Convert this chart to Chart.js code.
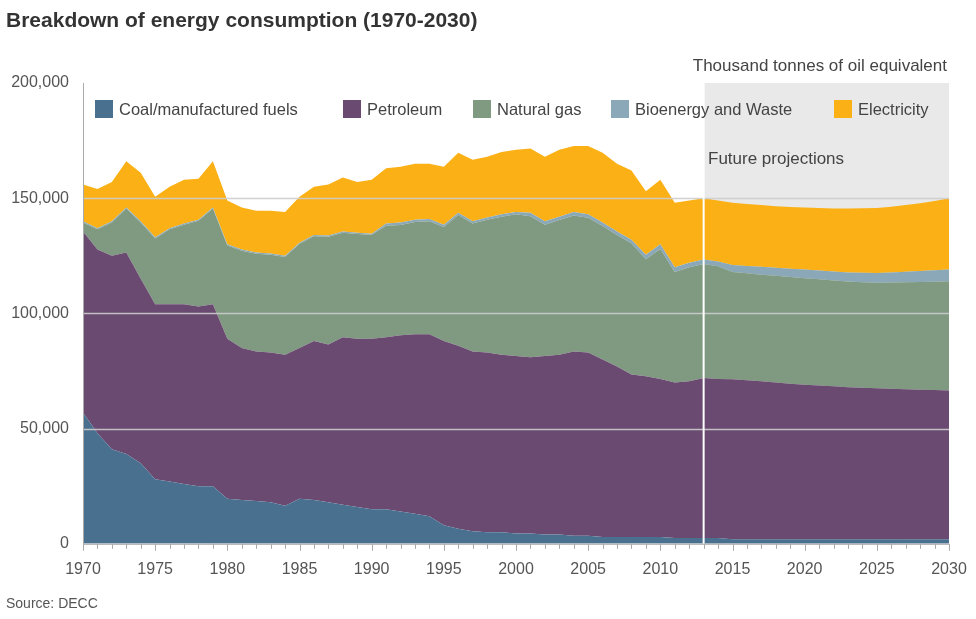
<!DOCTYPE html>
<html>
<head>
<meta charset="utf-8">
<script src="https://cdn.jsdelivr.net/npm/chart.js@4"></script>
<style>
  body { margin: 0; background: #fff; }
  #wrap { width: 976px; height: 619px; position: relative; }
</style>
</head>
<body>
<div id="wrap"><canvas id="chart" width="976" height="619"></canvas></div>
<script>
const years = [];
for (let y = 1970; y <= 2030; y++) years.push(y);

// thousand tonnes of oil equivalent
const coal = [57,48,41,39,35,28,27,26,25,25, 19.5,19,18.6,18,16.5,19.5,19,18,17,16,
  15,15,14,13,12,8,6.5,5.5,5,5, 4.5,4.5,4,4,3.5,3.5,3,3,3,3, 3,2.5,2.5,2.5,2.5,
  2,2,2,2,2,2,2,2,2,2,2,2,2,2,2,2];
const petroleum = [78.5,79.7,84,87.4,80,76,77,78,78,79, 69.5,66,64.9,65,65.5,65.5,69,68.5,72.6,73,
  74,74.6,76.5,78,79,80,79.5,78,78,77, 77,76.5,77.5,78,80,79.5,77,74,70.5,69.7,
  68.5,67.5,68,69.5,69, 69.4,69,68.5,68,67.5,67,66.7,66.4,66,65.7,65.5,65.3,65.1,64.9,64.7,64.5];
const naturalGas = [4,8.8,14.5,19.1,24.5,28.5,32.5,34.5,37.2,41.5, 40.5,42.2,42.4,42.5,42.5,45.2,45.5,46.8,45.4,45.5,
  45.1,48.4,47.9,48.7,49,49.5,56.7,55.5,57.6,60, 61.5,61.2,57,58.5,59,58.5,57.9,57,57,50.8,
  56.5,48,49.5,49.4,49, 46.6,46.4,46.3,46.3,46.3,46.3,46.1,45.9,45.8,45.8,45.8,46.1,46.4,46.7,47,47.5];
const bioenergy = [0.5,0.5,0.5,0.5,0.5,0.5,0.5,0.5,0.5,0.5, 0.5,0.5,0.5,0.5,0.5,0.5,0.5,0.5,0.5,0.5,
  0.5,1,1,1,1,1,1,1,1,1, 1,1.5,1.5,1.5,1.5,1.5,1.5,1.5,1.5,2,
  2,2,2,2,2, 3,3.2,3.4,3.5,3.6,3.7,3.8,3.9,4,4.1,4.2,4.4,4.6,4.8,5,5];
const electricity = [16,17,17,20,21,17.6,18,19,17.7,20, 19,18.3,18.2,18.6,19,19.9,21,22.2,23.5,22,
  23.4,24,24.2,24.3,24,25.1,26,26.7,26.4,27, 27,27.9,28,29,28.7,29.7,30.3,29.5,30,27.5,
  28,28,27,26.6,26.5, 27,26.9,26.8,26.7,26.8,27,27.2,27.3,27.7,28,28.3,28.5,28.9,29.4,30.1,31];

const seriesNames = ["Coal/manufactured fuels", "Petroleum", "Natural gas", "Bioenergy and Waste", "Electricity"];
const seriesColors = ["#4a7090", "#6b4a72", "#7f9a80", "#8aa8b8", "#fbb116"];
const seriesData = [coal, petroleum, naturalGas, bioenergy, electricity];
const projectionStart = 2013;
const xTicks = [1970,1975,1980,1985,1990,1995,2000,2005,2010,2015,2020,2025,2030];

const FONT = "'Liberation Sans', Arial, sans-serif";

const decor = {
  id: "decor",
  beforeDatasetsDraw(chart) {
    const { ctx, chartArea: a, scales: { x } } = chart;
    ctx.save();
    ctx.fillStyle = "#e9e9e9";
    const px = x.getPixelForValue(projectionStart);
    ctx.fillRect(px, a.top, a.right - px, a.bottom - a.top);
    ctx.restore();
  },
  afterDatasetsDraw(chart) {
    const { ctx, chartArea: a, scales: { x, y } } = chart;
    ctx.save();
    ctx.strokeStyle = "rgba(205,205,205,0.9)";
    ctx.lineWidth = 1.5;
    [50000, 100000, 150000].forEach(v => {
      const py = Math.round(y.getPixelForValue(v)) + 0.5;
      ctx.beginPath(); ctx.moveTo(a.left, py); ctx.lineTo(a.right, py); ctx.stroke();
    });
    const px = x.getPixelForValue(projectionStart);
    ctx.strokeStyle = "#fff"; ctx.lineWidth = 2;
    ctx.beginPath(); ctx.moveTo(px, a.top); ctx.lineTo(px, a.bottom); ctx.stroke();
    ctx.strokeStyle = "#aaa"; ctx.lineWidth = 1;
    ctx.beginPath(); ctx.moveTo(a.left + 0.5, a.top); ctx.lineTo(a.left + 0.5, a.bottom); ctx.stroke();
    ctx.beginPath(); ctx.moveTo(a.left, a.bottom + 0.5); ctx.lineTo(a.right, a.bottom + 0.5); ctx.stroke();
    years.forEach(yr => {
      const tx = Math.round(x.getPixelForValue(yr)) + 0.5;
      ctx.beginPath(); ctx.moveTo(tx, a.bottom); ctx.lineTo(tx, a.bottom + (yr % 5 === 0 ? 7 : 5)); ctx.stroke();
    });
    ctx.fillStyle = "#333";
    ctx.font = "bold 21px " + FONT;
    ctx.textBaseline = "middle";
    ctx.textAlign = "left";
    ctx.fillText("Breakdown of energy consumption (1970-2030)", 6, 21);
    ctx.font = "17px " + FONT;
    ctx.fillStyle = "#444";
    ctx.textAlign = "right";
    ctx.fillText("Thousand tonnes of oil equivalent", 947, 66);
    ctx.textAlign = "left";
    ctx.fillText("Future projections", 708, 159);
    ctx.font = "14px " + FONT;
    ctx.fillStyle = "#555";
    ctx.fillText("Source: DECC", 6, 604);
    const legendX = [95, 343, 473, 611, 834];
    ctx.font = "16.5px " + FONT;
    seriesNames.forEach((n, i) => {
      ctx.fillStyle = seriesColors[i];
      ctx.fillRect(legendX[i], 100, 18, 18);
      ctx.fillStyle = "#444";
      ctx.fillText(n, legendX[i] + 24, 110);
    });
    ctx.restore();
  }
};

new Chart(document.getElementById("chart"), {
  type: "line",
  data: {
    labels: years,
    datasets: seriesData.map((d, i) => ({
      label: seriesNames[i],
      data: d.map((v, j) => ({ x: years[j], y: v * 1000 })),
      backgroundColor: seriesColors[i],
      borderColor: seriesColors[i],
      borderWidth: 0,
      pointRadius: 0,
      tension: 0,
      fill: i === 0 ? "origin" : "-1"
    }))
  },
  options: {
    responsive: false,
    animation: false,
    layout: { padding: { top: 83, right: 27, bottom: 32, left: 0 } },
    plugins: { legend: { display: false }, tooltip: { enabled: false } },
    scales: {
      x: {
        type: "linear", min: 1970, max: 2030,
        grid: { display: false }, border: { display: false },
        afterBuildTicks: s => { s.ticks = xTicks.map(v => ({ value: v })); },
        ticks: { color: "#555", font: { size: 16, family: FONT }, padding: 8, maxRotation: 0,
          callback: v => String(v) }
      },
      y: {
        stacked: true, min: 0, max: 200000,
        grid: { display: false }, border: { display: false },
        afterFit: s => { s.width = 83; },
        ticks: { stepSize: 50000, color: "#555", font: { size: 16, family: FONT }, padding: 6,
          callback: v => v.toLocaleString("en-US") }
      }
    }
  },
  plugins: [decor]
});
</script>
</body>
</html>
